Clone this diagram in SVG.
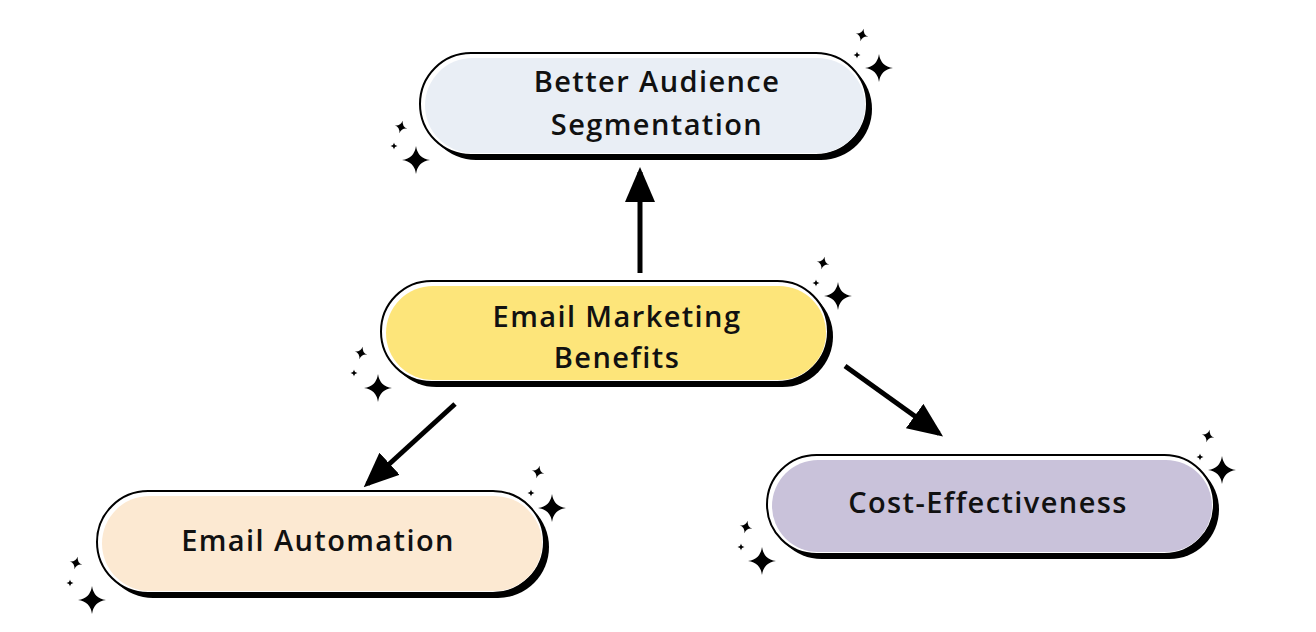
<svg xmlns="http://www.w3.org/2000/svg" width="1316" height="632" viewBox="0 0 1316 632">
<style>
.shadow{fill:#000}
.outline{fill:#fff;stroke:#000;stroke-width:2}
.lbl{font-family:"Open Sans","Noto Sans",sans-serif;font-weight:600;font-size:29px;letter-spacing:1.4px;fill:#111;text-anchor:middle}
.conn{stroke:#000;stroke-width:5;fill:none}
.star{fill:#000}
</style>
<defs>
<path id="st" d="M0,-1 Q0.12,-0.12 1,0 Q0.12,0.12 0,1 Q-0.12,0.12 -1,0 Q-0.12,-0.12 0,-1Z"/>
<marker id="ah" markerWidth="7" markerHeight="6" refX="6" refY="3" orient="auto" markerUnits="strokeWidth">
<path d="M0,0 L7,3 L0,6Z" fill="#000"/>
</marker>
</defs>
<rect width="1316" height="632" fill="#fff"/>
<g id="connectors">
<line class="conn" x1="640" y1="273" x2="640" y2="172" marker-end="url(#ah)"/>
<line class="conn" x1="455" y1="404" x2="367.4" y2="484" marker-end="url(#ah)"/>
<line class="conn" x1="845" y1="366" x2="939" y2="433.5" marker-end="url(#ah)"/>
</g>
<g id="node-segmentation">
<rect class="shadow" x="425" y="58" width="447" height="102" rx="51"/>
<rect class="outline" x="420" y="53" width="447" height="102" rx="51"/>
<rect x="425" y="58" width="440" height="95" rx="47.5" fill="#E9EEF5"/>
<text class="lbl" x="657" y="92">Better Audience</text>
<text class="lbl" x="657" y="135">Segmentation</text>
<use href="#st" class="star" transform="translate(862,35) rotate(15) scale(6.5)"/>
<use href="#st" class="star" transform="translate(857,55) scale(3.5)"/>
<use href="#st" class="star" transform="translate(879,68) scale(14)"/>
<use href="#st" class="star" transform="translate(401,127) rotate(15) scale(6.5)"/>
<use href="#st" class="star" transform="translate(394,146) scale(3.5)"/>
<use href="#st" class="star" transform="translate(416,160) scale(14)"/>
</g>
<g id="node-center">
<rect class="shadow" x="386" y="286" width="447" height="101" rx="50.5"/>
<rect class="outline" x="381" y="281" width="447" height="101" rx="50.5"/>
<rect x="386" y="286" width="440" height="94" rx="47" fill="#FDE57A"/>
<text class="lbl" x="617" y="327">Email Marketing</text>
<text class="lbl" x="617" y="368">Benefits</text>
<use href="#st" class="star" transform="translate(823,263) rotate(15) scale(6.5)"/>
<use href="#st" class="star" transform="translate(816,283) scale(3.5)"/>
<use href="#st" class="star" transform="translate(838,296) scale(14)"/>
<use href="#st" class="star" transform="translate(361,353) rotate(15) scale(6.5)"/>
<use href="#st" class="star" transform="translate(354,373) scale(3.5)"/>
<use href="#st" class="star" transform="translate(378,388) scale(14)"/>
</g>
<g id="node-automation">
<rect class="shadow" x="102" y="496" width="447" height="102" rx="51"/>
<rect class="outline" x="97" y="491" width="447" height="102" rx="51"/>
<rect x="102" y="496" width="440" height="95" rx="47.5" fill="#FCE9D2"/>
<text class="lbl" x="318" y="551">Email Automation</text>
<use href="#st" class="star" transform="translate(538,472) rotate(15) scale(6.5)"/>
<use href="#st" class="star" transform="translate(531,493) scale(3.5)"/>
<use href="#st" class="star" transform="translate(552,508) scale(14)"/>
<use href="#st" class="star" transform="translate(76,563) rotate(15) scale(6.5)"/>
<use href="#st" class="star" transform="translate(70,583) scale(3.5)"/>
<use href="#st" class="star" transform="translate(92,600) scale(14)"/>
</g>
<g id="node-cost">
<rect class="shadow" x="772" y="460" width="447" height="99" rx="49.5"/>
<rect class="outline" x="767" y="455" width="447" height="99" rx="49.5"/>
<rect x="772" y="460" width="440" height="92" rx="46" fill="#C9C2DA"/>
<text class="lbl" x="988" y="513">Cost-Effectiveness</text>
<use href="#st" class="star" transform="translate(1208,436) rotate(15) scale(6.5)"/>
<use href="#st" class="star" transform="translate(1200,457) scale(3.5)"/>
<use href="#st" class="star" transform="translate(1222,470) scale(14)"/>
<use href="#st" class="star" transform="translate(746,527) rotate(15) scale(6.5)"/>
<use href="#st" class="star" transform="translate(741,547) scale(3.5)"/>
<use href="#st" class="star" transform="translate(762,561) scale(14)"/>
</g>
</svg>
